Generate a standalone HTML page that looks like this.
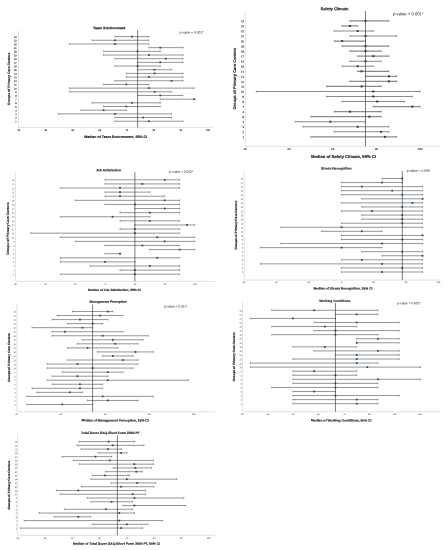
<!DOCTYPE html>
<html><head><meta charset="utf-8"><title>SAQ domains by primary care center</title>
<style>
html,body{margin:0;padding:0;background:#fff}
svg{display:block}
text{font-family:"Liberation Sans",Arial,sans-serif;fill:#111;text-rendering:geometricPrecision}
.b{font-weight:bold;stroke:#111;stroke-width:0.12px}
.t text{fill:#000;stroke:#000;stroke-width:0.07px}
.u text{fill:#2a2a2a}
</style></head><body>
<svg width="447" height="550" viewBox="0 0 447 550">
<rect width="447" height="550" fill="#fff"/>
<g>
<path d="M18.4 30.5V127.4H213.5" fill="none" stroke="#d4d4d4" stroke-width="0.7"/>
<path d="M114.94 36.6H148.93M92.28 40.28H148.93M69.62 43.96H148.93M148.93 47.64H182.92M103.61 51.32H160.26M103.61 55H182.92M114.94 58.68H182.92M137.6 62.36H182.92M114.94 66.04H160.26M137.6 69.72H171.59M126.27 73.4H182.92M126.27 77.08H182.92M114.94 80.76H182.92M103.61 84.44H148.93M69.62 88.12H194.25M69.62 91.8H171.59M137.6 95.48H182.92M160.26 99.16H194.25M92.28 102.84H160.26M103.61 106.52H160.26M80.95 110.2H126.27M58.29 113.88H171.59M114.94 117.56H171.59M114.94 121.24H182.92" fill="none" stroke="#969696" stroke-width="1"/>
<path d="M114.94 35.7v1.8M148.93 35.7v1.8M92.28 39.38v1.8M148.93 39.38v1.8M69.62 43.06v1.8M148.93 43.06v1.8M148.93 46.74v1.8M182.92 46.74v1.8M103.61 50.42v1.8M160.26 50.42v1.8M103.61 54.1v1.8M182.92 54.1v1.8M114.94 57.78v1.8M182.92 57.78v1.8M137.6 61.46v1.8M182.92 61.46v1.8M114.94 65.14v1.8M160.26 65.14v1.8M137.6 68.82v1.8M171.59 68.82v1.8M126.27 72.5v1.8M182.92 72.5v1.8M126.27 76.18v1.8M182.92 76.18v1.8M114.94 79.86v1.8M182.92 79.86v1.8M103.61 83.54v1.8M148.93 83.54v1.8M69.62 87.22v1.8M194.25 87.22v1.8M69.62 90.9v1.8M171.59 90.9v1.8M137.6 94.58v1.8M182.92 94.58v1.8M160.26 98.26v1.8M194.25 98.26v1.8M92.28 101.94v1.8M160.26 101.94v1.8M103.61 105.62v1.8M160.26 105.62v1.8M80.95 109.3v1.8M126.27 109.3v1.8M58.29 112.98v1.8M171.59 112.98v1.8M114.94 116.66v1.8M171.59 116.66v1.8M114.94 120.34v1.8M182.92 120.34v1.8" fill="none" stroke="#555" stroke-width="0.55"/>
<path d="M137.6 30.4V127.4" stroke="#3c3c3c" stroke-width="0.68"/>
<rect x="131.09" y="35.75" width="1.7" height="1.7" fill="#14466c"/><rect x="114.09" y="39.43" width="1.7" height="1.7" fill="#14466c"/><rect x="114.09" y="43.11" width="1.7" height="1.7" fill="#14466c"/><rect x="159.41" y="46.79" width="1.7" height="1.7" fill="#14466c"/><rect x="136.75" y="50.47" width="1.7" height="1.7" fill="#14466c"/><rect x="148.08" y="54.15" width="1.7" height="1.7" fill="#14466c"/><rect x="165.07" y="57.83" width="1.7" height="1.7" fill="#14466c"/><rect x="159.41" y="61.51" width="1.7" height="1.7" fill="#14466c"/><rect x="136.75" y="65.19" width="1.7" height="1.7" fill="#14466c"/><rect x="153.75" y="68.87" width="1.7" height="1.7" fill="#14466c"/><rect x="153.75" y="72.55" width="1.7" height="1.7" fill="#14466c"/><rect x="148.08" y="76.23" width="1.7" height="1.7" fill="#14466c"/><rect x="170.74" y="79.91" width="1.7" height="1.7" fill="#14466c"/><rect x="125.42" y="83.59" width="1.7" height="1.7" fill="#14466c"/><rect x="148.08" y="87.27" width="1.7" height="1.7" fill="#14466c"/><rect x="153.75" y="90.95" width="1.7" height="1.7" fill="#14466c"/><rect x="159.41" y="94.63" width="1.7" height="1.7" fill="#14466c"/><rect x="193.4" y="98.31" width="1.7" height="1.7" fill="#14466c"/><rect x="131.09" y="101.99" width="1.7" height="1.7" fill="#14466c"/><rect x="125.42" y="105.67" width="1.7" height="1.7" fill="#14466c"/><rect x="102.76" y="109.35" width="1.7" height="1.7" fill="#14466c"/><rect x="114.09" y="113.03" width="1.7" height="1.7" fill="#14466c"/><rect x="142.41" y="116.71" width="1.7" height="1.7" fill="#14466c"/><rect x="148.08" y="120.39" width="1.7" height="1.7" fill="#14466c"/>
<text class="b" x="109.2" y="29.15" font-size="3.62" text-anchor="middle" transform="rotate(0.03 109.2 29.15)">Team Environment</text>
<text class="b" x="115.7" y="138" font-size="3.55" text-anchor="middle" transform="rotate(0.03 115.7 138)">Median of Team Environment, 95% CI</text>
<text class="b" transform="translate(10.1 78.9) rotate(-90)" font-size="3.45" text-anchor="middle">Groups of Primary Care Centers</text>
<text x="179.4" y="33.6" font-size="3.3" transform="rotate(0.03 189.4 33.6)">p-value = 0.001*</text>
<g class="t" font-size="2.3" text-anchor="middle" transform="rotate(0.02 115.95 131.3)"><text x="18.8" y="131.3">30</text><text x="45.8" y="131.3">40</text><text x="72.8" y="131.3">50</text><text x="99.8" y="131.3">60</text><text x="126.8" y="131.3">70</text><text x="153.8" y="131.3">80</text><text x="180.8" y="131.3">90</text><text x="207.8" y="131.3">100</text></g>
<g class="t" font-size="2.5" text-anchor="end" transform="rotate(0.03 16.7 80.76)"><text x="16.7" y="37.9">24</text><text x="16.7" y="41.58">23</text><text x="16.7" y="45.26">22</text><text x="16.7" y="48.94">21</text><text x="16.7" y="52.62">20</text><text x="16.7" y="56.3">19</text><text x="16.7" y="59.98">18</text><text x="16.7" y="63.66">17</text><text x="16.7" y="67.34">16</text><text x="16.7" y="71.02">15</text><text x="16.7" y="74.7">14</text><text x="16.7" y="78.38">13</text><text x="16.7" y="82.06">12</text><text x="16.7" y="85.74">11</text><text x="16.7" y="89.42">10</text><text x="16.7" y="93.1">9</text><text x="16.7" y="96.78">8</text><text x="16.7" y="100.46">7</text><text x="16.7" y="104.14">6</text><text x="16.7" y="107.82">5</text><text x="16.7" y="111.5">4</text><text x="16.7" y="115.18">3</text><text x="16.7" y="118.86">2</text><text x="16.7" y="122.54">1</text></g>
</g>
<g>
<path d="M245.3 11V146.3H439.6" fill="none" stroke="#d4d4d4" stroke-width="0.7"/>
<path d="M349.9 20.9H388.9M342.1 25.94H357.7M334.3 30.98H373.3M349.9 36.02H396.7M334.3 41.06H365.5M342.1 46.1H388.9M349.9 51.14H381.1M357.7 56.18H388.9M349.9 61.22H381.1M342.1 66.26H373.3M357.7 71.3H388.9M365.5 76.34H396.7M349.9 81.38H396.7M326.5 86.42H381.1M256.3 91.46H420.1M326.5 96.5H412.3M342.1 101.54H404.5M373.3 106.58H420.1M334.3 111.62H381.1M310.9 116.66H381.1M295.3 121.7H365.5M303.1 126.74H388.9M334.3 131.78H388.9M310.9 136.82H396.7" fill="none" stroke="#8a8a8a" stroke-width="1.15"/>
<path d="M349.9 19.95v1.9M388.9 19.95v1.9M342.1 24.99v1.9M357.7 24.99v1.9M334.3 30.03v1.9M373.3 30.03v1.9M349.9 35.07v1.9M396.7 35.07v1.9M334.3 40.11v1.9M365.5 40.11v1.9M342.1 45.15v1.9M388.9 45.15v1.9M349.9 50.19v1.9M381.1 50.19v1.9M357.7 55.23v1.9M388.9 55.23v1.9M349.9 60.27v1.9M381.1 60.27v1.9M342.1 65.31v1.9M373.3 65.31v1.9M357.7 70.35v1.9M388.9 70.35v1.9M365.5 75.39v1.9M396.7 75.39v1.9M349.9 80.43v1.9M396.7 80.43v1.9M326.5 85.47v1.9M381.1 85.47v1.9M256.3 90.51v1.9M420.1 90.51v1.9M326.5 95.55v1.9M412.3 95.55v1.9M342.1 100.59v1.9M404.5 100.59v1.9M373.3 105.63v1.9M420.1 105.63v1.9M334.3 110.67v1.9M381.1 110.67v1.9M310.9 115.71v1.9M381.1 115.71v1.9M295.3 120.75v1.9M365.5 120.75v1.9M303.1 125.79v1.9M388.9 125.79v1.9M334.3 130.83v1.9M388.9 130.83v1.9M310.9 135.87v1.9M396.7 135.87v1.9" fill="none" stroke="#555" stroke-width="0.55"/>
<path d="M365.5 11V146.3" stroke="#3c3c3c" stroke-width="0.68"/>
<rect x="364.5" y="19.9" width="2" height="2" fill="#14466c"/><rect x="348.9" y="24.94" width="2" height="2" fill="#14466c"/><rect x="356.7" y="29.98" width="2" height="2" fill="#14466c"/><rect x="364.5" y="35.02" width="2" height="2" fill="#14466c"/><rect x="341.1" y="40.06" width="2" height="2" fill="#14466c"/><rect x="364.5" y="45.1" width="2" height="2" fill="#14466c"/><rect x="364.5" y="50.14" width="2" height="2" fill="#14466c"/><rect x="372.3" y="55.18" width="2" height="2" fill="#14466c"/><rect x="364.5" y="60.22" width="2" height="2" fill="#14466c"/><rect x="356.7" y="65.26" width="2" height="2" fill="#14466c"/><rect x="360.6" y="70.3" width="2" height="2" fill="#14466c"/><rect x="387.9" y="75.34" width="2" height="2" fill="#14466c"/><rect x="387.9" y="80.38" width="2" height="2" fill="#14466c"/><rect x="360.6" y="85.42" width="2" height="2" fill="#14466c"/><rect x="372.3" y="90.46" width="2" height="2" fill="#14466c"/><rect x="372.3" y="95.5" width="2" height="2" fill="#14466c"/><rect x="376.2" y="100.54" width="2" height="2" fill="#14466c"/><rect x="411.3" y="105.58" width="2" height="2" fill="#14466c"/><rect x="348.9" y="110.62" width="2" height="2" fill="#14466c"/><rect x="368.4" y="115.66" width="2" height="2" fill="#14466c"/><rect x="329.4" y="120.7" width="2" height="2" fill="#14466c"/><rect x="356.7" y="125.74" width="2" height="2" fill="#14466c"/><rect x="380.1" y="130.78" width="2" height="2" fill="#14466c"/><rect x="384" y="135.82" width="2" height="2" fill="#14466c"/>
<text class="b" x="334.6" y="10.2" font-size="4.08" text-anchor="middle" transform="rotate(0.03 334.6 10.2)">Safety Climate</text>
<text class="b" x="343.5" y="158" font-size="4.15" text-anchor="middle" transform="rotate(0.03 343.5 158)">Median of Safety Climate, 95% CI</text>
<text class="b" transform="translate(236.3 78.6) rotate(-90)" font-size="4.05" text-anchor="middle">Groups of Primary Care Centers</text>
<text x="392.9" y="15.2" font-size="4.2" transform="rotate(0.03 402.9 15.2)">p-value &lt; 0.001*</text>
<g class="t" font-size="2.8" text-anchor="middle" transform="rotate(0.02 342.45 150)"><text x="245.1" y="150">20</text><text x="288.9" y="150">40</text><text x="332.7" y="150">60</text><text x="376.5" y="150">80</text><text x="420.3" y="150">100</text></g>
<g class="t" font-size="2.7" text-anchor="end" transform="rotate(0.03 244 81.38)"><text x="244" y="22.27">24</text><text x="244" y="27.31">23</text><text x="244" y="32.35">22</text><text x="244" y="37.39">21</text><text x="244" y="42.43">20</text><text x="244" y="47.47">19</text><text x="244" y="52.51">18</text><text x="244" y="57.55">17</text><text x="244" y="62.59">16</text><text x="244" y="67.63">15</text><text x="244" y="72.67">14</text><text x="244" y="77.71">13</text><text x="244" y="82.75">12</text><text x="244" y="87.79">11</text><text x="244" y="92.83">10</text><text x="244" y="97.87">9</text><text x="244" y="102.91">8</text><text x="244" y="107.95">7</text><text x="244" y="112.99">6</text><text x="244" y="118.03">5</text><text x="244" y="123.07">4</text><text x="244" y="128.11">3</text><text x="244" y="133.15">2</text><text x="244" y="138.19">1</text></g>
</g>
<g>
<path d="M15.6 172.3V281.4H215" fill="none" stroke="#d4d4d4" stroke-width="0.7"/>
<path d="M105.1 179.8H179.6M105.1 183.91H179.6M60.4 188.01H179.6M105.1 192.12H149.8M105.1 196.22H164.7M75.3 200.33H179.6M105.1 204.43H179.6M134.9 208.54H179.6M120 212.64H179.6M60.4 216.75H149.8M120 220.85H179.6M134.9 224.96H194.5M120 229.06H179.6M30.6 233.17H179.6M60.4 237.27H194.5M75.3 241.38H194.5M105.1 245.48H179.6M149.8 249.59H194.5M105.1 253.69H120M60.4 257.8H179.6M60.4 261.9H134.9M90.2 266H179.6M120 270.11H179.6M60.4 274.22H179.6" fill="none" stroke="#969696" stroke-width="1"/>
<path d="M105.1 178.9v1.8M179.6 178.9v1.8M105.1 183v1.8M179.6 183v1.8M60.4 187.11v1.8M179.6 187.11v1.8M105.1 191.22v1.8M149.8 191.22v1.8M105.1 195.32v1.8M164.7 195.32v1.8M75.3 199.43v1.8M179.6 199.43v1.8M105.1 203.53v1.8M179.6 203.53v1.8M134.9 207.64v1.8M179.6 207.64v1.8M120 211.74v1.8M179.6 211.74v1.8M60.4 215.84v1.8M149.8 215.84v1.8M120 219.95v1.8M179.6 219.95v1.8M134.9 224.06v1.8M194.5 224.06v1.8M120 228.16v1.8M179.6 228.16v1.8M30.6 232.27v1.8M179.6 232.27v1.8M60.4 236.37v1.8M194.5 236.37v1.8M75.3 240.47v1.8M194.5 240.47v1.8M105.1 244.58v1.8M179.6 244.58v1.8M149.8 248.69v1.8M194.5 248.69v1.8M105.1 252.79v1.8M120 252.79v1.8M60.4 256.9v1.8M179.6 256.9v1.8M60.4 261v1.8M134.9 261v1.8M90.2 265.11v1.8M179.6 265.11v1.8M120 269.21v1.8M179.6 269.21v1.8M60.4 273.32v1.8M179.6 273.32v1.8" fill="none" stroke="#555" stroke-width="0.55"/>
<path d="M134.9 172.2V281.4" stroke="#3c3c3c" stroke-width="0.68"/>
<rect x="163.85" y="178.95" width="1.7" height="1.7" fill="#14466c"/><rect x="141.5" y="183.06" width="1.7" height="1.7" fill="#14466c"/><rect x="119.15" y="187.16" width="1.7" height="1.7" fill="#14466c"/><rect x="119.15" y="191.27" width="1.7" height="1.7" fill="#14466c"/><rect x="119.15" y="195.37" width="1.7" height="1.7" fill="#14466c"/><rect x="163.85" y="199.48" width="1.7" height="1.7" fill="#14466c"/><rect x="134.05" y="203.58" width="1.7" height="1.7" fill="#14466c"/><rect x="163.85" y="207.69" width="1.7" height="1.7" fill="#14466c"/><rect x="148.95" y="211.79" width="1.7" height="1.7" fill="#14466c"/><rect x="111.7" y="215.9" width="1.7" height="1.7" fill="#14466c"/><rect x="148.95" y="220" width="1.7" height="1.7" fill="#14466c"/><rect x="186.2" y="224.11" width="1.7" height="1.7" fill="#14466c"/><rect x="134.05" y="228.21" width="1.7" height="1.7" fill="#14466c"/><rect x="134.05" y="232.32" width="1.7" height="1.7" fill="#14466c"/><rect x="156.4" y="236.42" width="1.7" height="1.7" fill="#14466c"/><rect x="163.85" y="240.53" width="1.7" height="1.7" fill="#14466c"/><rect x="141.5" y="244.63" width="1.7" height="1.7" fill="#14466c"/><rect x="178.75" y="248.74" width="1.7" height="1.7" fill="#14466c"/><rect x="119.15" y="252.84" width="1.7" height="1.7" fill="#14466c"/><rect x="156.4" y="256.94" width="1.7" height="1.7" fill="#14466c"/><rect x="104.25" y="261.05" width="1.7" height="1.7" fill="#14466c"/><rect x="148.95" y="265.15" width="1.7" height="1.7" fill="#14466c"/><rect x="134.05" y="269.26" width="1.7" height="1.7" fill="#14466c"/><rect x="134.05" y="273.37" width="1.7" height="1.7" fill="#14466c"/>
<text class="b" x="108.7" y="171.15" font-size="3.24" text-anchor="middle" transform="rotate(0.03 108.7 171.15)">Job Satisfaction</text>
<text class="b" x="114.4" y="290.9" font-size="3.2" text-anchor="middle" transform="rotate(0.03 114.4 290.9)">Median of Job Satisfaction, 95% CI</text>
<text class="b" transform="translate(8.5 228.6) rotate(-90)" font-size="3.45" text-anchor="middle">Groups of Primary Care Centers</text>
<text x="169.3" y="172.8" font-size="3.3" transform="rotate(0.03 179.3 172.8)">p-value = 0.042*</text>
<g class="u" font-size="2.3" text-anchor="middle" transform="rotate(0.02 115.3 285.2)"><text x="15.6" y="285.2">40</text><text x="45.47" y="285.2">50</text><text x="75.34" y="285.2">60</text><text x="105.21" y="285.2">70</text><text x="135.08" y="285.2">80</text><text x="164.95" y="285.2">90</text><text x="194.82" y="285.2">100</text></g>
<g class="u" font-size="2.05" text-anchor="end" transform="rotate(0.03 14.4 229.06)"><text x="14.4" y="180.94">24</text><text x="14.4" y="185.04">23</text><text x="14.4" y="189.15">22</text><text x="14.4" y="193.25">21</text><text x="14.4" y="197.36">20</text><text x="14.4" y="201.46">19</text><text x="14.4" y="205.57">18</text><text x="14.4" y="209.67">17</text><text x="14.4" y="213.78">16</text><text x="14.4" y="217.88">15</text><text x="14.4" y="221.99">14</text><text x="14.4" y="226.09">13</text><text x="14.4" y="230.2">12</text><text x="14.4" y="234.3">11</text><text x="14.4" y="238.41">10</text><text x="14.4" y="242.51">9</text><text x="14.4" y="246.62">8</text><text x="14.4" y="250.72">7</text><text x="14.4" y="254.83">6</text><text x="14.4" y="258.93">5</text><text x="14.4" y="263.04">4</text><text x="14.4" y="267.14">3</text><text x="14.4" y="271.25">2</text><text x="14.4" y="275.35">1</text></g>
</g>
<g>
<path d="M244.1 170.5V280.1H440" fill="none" stroke="#d4d4d4" stroke-width="0.7"/>
<path d="M382.05 178.5H402.3M341.55 182.56H402.3M341.55 186.63H422.55M341.55 190.69H422.55M341.55 194.76H422.55M361.8 198.82H422.55M341.55 202.89H422.55M361.8 206.96H422.55M341.55 211.02H422.55M361.8 215.09H422.55M361.8 219.15H422.55M341.55 223.22H422.55M280.8 227.28H422.55M321.3 231.34H382.05M341.55 235.41H422.55M341.55 239.48H422.55M280.8 243.54H422.55M260.55 247.61H382.05M361.8 251.67H422.55M382.05 255.74H422.55M341.55 259.8H422.55M260.55 263.87H422.55M341.55 267.93H422.55M341.55 272H422.55" fill="none" stroke="#969696" stroke-width="1"/>
<path d="M382.05 177.6v1.8M402.3 177.6v1.8M341.55 181.66v1.8M402.3 181.66v1.8M341.55 185.73v1.8M422.55 185.73v1.8M341.55 189.79v1.8M422.55 189.79v1.8M341.55 193.86v1.8M422.55 193.86v1.8M361.8 197.92v1.8M422.55 197.92v1.8M341.55 201.99v1.8M422.55 201.99v1.8M361.8 206.06v1.8M422.55 206.06v1.8M341.55 210.12v1.8M422.55 210.12v1.8M361.8 214.19v1.8M422.55 214.19v1.8M361.8 218.25v1.8M422.55 218.25v1.8M341.55 222.31v1.8M422.55 222.31v1.8M280.8 226.38v1.8M422.55 226.38v1.8M321.3 230.44v1.8M382.05 230.44v1.8M341.55 234.51v1.8M422.55 234.51v1.8M341.55 238.58v1.8M422.55 238.58v1.8M280.8 242.64v1.8M422.55 242.64v1.8M260.55 246.71v1.8M382.05 246.71v1.8M361.8 250.77v1.8M422.55 250.77v1.8M382.05 254.84v1.8M422.55 254.84v1.8M341.55 258.9v1.8M422.55 258.9v1.8M260.55 262.97v1.8M422.55 262.97v1.8M341.55 267.03v1.8M422.55 267.03v1.8M341.55 271.1v1.8M422.55 271.1v1.8" fill="none" stroke="#555" stroke-width="0.55"/>
<path d="M402.3 171V280.1" stroke="#3c3c3c" stroke-width="0.68"/>
<rect x="401.45" y="177.65" width="1.7" height="1.7" fill="#14466c"/><rect x="381.2" y="181.72" width="1.7" height="1.7" fill="#14466c"/><rect x="360.95" y="185.78" width="1.7" height="1.7" fill="#14466c"/><rect x="391.32" y="189.84" width="1.7" height="1.7" fill="#14466c"/><rect x="401.45" y="193.91" width="1.7" height="1.7" fill="#14466c"/><rect x="421.7" y="197.97" width="1.7" height="1.7" fill="#14466c"/><rect x="411.57" y="202.04" width="1.7" height="1.7" fill="#14466c"/><rect x="401.45" y="206.11" width="1.7" height="1.7" fill="#14466c"/><rect x="371.07" y="210.17" width="1.7" height="1.7" fill="#14466c"/><rect x="401.45" y="214.24" width="1.7" height="1.7" fill="#14466c"/><rect x="401.45" y="218.3" width="1.7" height="1.7" fill="#14466c"/><rect x="401.45" y="222.37" width="1.7" height="1.7" fill="#14466c"/><rect x="340.7" y="226.43" width="1.7" height="1.7" fill="#14466c"/><rect x="360.95" y="230.5" width="1.7" height="1.7" fill="#14466c"/><rect x="421.7" y="234.56" width="1.7" height="1.7" fill="#14466c"/><rect x="401.45" y="238.63" width="1.7" height="1.7" fill="#14466c"/><rect x="381.2" y="242.69" width="1.7" height="1.7" fill="#14466c"/><rect x="340.7" y="246.76" width="1.7" height="1.7" fill="#14466c"/><rect x="401.45" y="250.82" width="1.7" height="1.7" fill="#14466c"/><rect x="421.7" y="254.89" width="1.7" height="1.7" fill="#14466c"/><rect x="360.95" y="258.95" width="1.7" height="1.7" fill="#14466c"/><rect x="381.2" y="263.01" width="1.7" height="1.7" fill="#14466c"/><rect x="401.45" y="267.08" width="1.7" height="1.7" fill="#14466c"/><rect x="381.2" y="271.14" width="1.7" height="1.7" fill="#14466c"/>
<text class="b" x="336.3" y="169.6" font-size="3.35" text-anchor="middle" transform="rotate(0.03 336.3 169.6)">Stress Recognition</text>
<text class="b" x="343" y="289.4" font-size="3.3" text-anchor="middle" transform="rotate(0.03 343 289.4)">Median of Stress Recognition, 95% CI</text>
<text class="b" transform="translate(237.1 225.2) rotate(-90)" font-size="3.2" text-anchor="middle">Groups of Primary Care Centers</text>
<text x="406.7" y="171.7" font-size="3.35" transform="rotate(0.03 416.7 171.7)">p-value = 0.099</text>
<g class="u" font-size="2.3" text-anchor="middle" transform="rotate(0.02 342.05 283.4)"><text x="244" y="283.4">40</text><text x="276.4" y="283.4">50</text><text x="308.8" y="283.4">60</text><text x="341.2" y="283.4">70</text><text x="373.6" y="283.4">80</text><text x="406" y="283.4">90</text><text x="438.4" y="283.4">100</text></g>
<g class="u" font-size="2.05" text-anchor="end" transform="rotate(0.03 243.1 227.28)"><text x="243.1" y="179.64">24</text><text x="243.1" y="183.7">23</text><text x="243.1" y="187.77">22</text><text x="243.1" y="191.83">21</text><text x="243.1" y="195.9">20</text><text x="243.1" y="199.96">19</text><text x="243.1" y="204.03">18</text><text x="243.1" y="208.09">17</text><text x="243.1" y="212.16">16</text><text x="243.1" y="216.22">15</text><text x="243.1" y="220.29">14</text><text x="243.1" y="224.35">13</text><text x="243.1" y="228.42">12</text><text x="243.1" y="232.48">11</text><text x="243.1" y="236.55">10</text><text x="243.1" y="240.61">9</text><text x="243.1" y="244.68">8</text><text x="243.1" y="248.74">7</text><text x="243.1" y="252.81">6</text><text x="243.1" y="256.87">5</text><text x="243.1" y="260.94">4</text><text x="243.1" y="265">3</text><text x="243.1" y="269.07">2</text><text x="243.1" y="273.13">1</text></g>
</g>
<g>
<path d="M16.8 304.1V411.8H215" fill="none" stroke="#d4d4d4" stroke-width="0.7"/>
<path d="M72.4 311.5H112.8M57.25 315.54H122.9M52.2 319.59H107.75M67.35 323.63H102.7M32 327.67H92.6M52.2 331.71H122.9M52.2 335.76H148.15M82.5 339.8H143.1M77.45 343.84H138.05M67.35 347.89H117.85M97.65 351.93H153.2M102.7 355.97H133M67.35 360.02H138.05M47.15 364.06H138.05M47.15 368.1H133M62.3 372.14H122.9M52.2 376.19H107.75M47.15 380.23H188.55M52.2 384.27H102.7M32 388.32H102.7M37.05 392.36H82.5M26.95 396.4H153.2M87.55 400.45H138.05M26.95 404.49H92.6" fill="none" stroke="#969696" stroke-width="1"/>
<path d="M72.4 310.6v1.8M112.8 310.6v1.8M57.25 314.64v1.8M122.9 314.64v1.8M52.2 318.69v1.8M107.75 318.69v1.8M67.35 322.73v1.8M102.7 322.73v1.8M32 326.77v1.8M92.6 326.77v1.8M52.2 330.81v1.8M122.9 330.81v1.8M52.2 334.86v1.8M148.15 334.86v1.8M82.5 338.9v1.8M143.1 338.9v1.8M77.45 342.94v1.8M138.05 342.94v1.8M67.35 346.99v1.8M117.85 346.99v1.8M97.65 351.03v1.8M153.2 351.03v1.8M102.7 355.07v1.8M133 355.07v1.8M67.35 359.12v1.8M138.05 359.12v1.8M47.15 363.16v1.8M138.05 363.16v1.8M47.15 367.2v1.8M133 367.2v1.8M62.3 371.25v1.8M122.9 371.25v1.8M52.2 375.29v1.8M107.75 375.29v1.8M47.15 379.33v1.8M188.55 379.33v1.8M52.2 383.37v1.8M102.7 383.37v1.8M32 387.42v1.8M102.7 387.42v1.8M37.05 391.46v1.8M82.5 391.46v1.8M26.95 395.5v1.8M153.2 395.5v1.8M87.55 399.55v1.8M138.05 399.55v1.8M26.95 403.59v1.8M92.6 403.59v1.8" fill="none" stroke="#555" stroke-width="0.55"/>
<path d="M92.6 304.4V411.8" stroke="#3c3c3c" stroke-width="0.68"/>
<rect x="106.9" y="310.65" width="1.7" height="1.7" fill="#14466c"/><rect x="99.33" y="314.69" width="1.7" height="1.7" fill="#14466c"/><rect x="79.12" y="318.74" width="1.7" height="1.7" fill="#14466c"/><rect x="91.75" y="322.78" width="1.7" height="1.7" fill="#14466c"/><rect x="81.65" y="326.82" width="1.7" height="1.7" fill="#14466c"/><rect x="63.97" y="330.86" width="1.7" height="1.7" fill="#14466c"/><rect x="101.85" y="334.91" width="1.7" height="1.7" fill="#14466c"/><rect x="111.95" y="338.95" width="1.7" height="1.7" fill="#14466c"/><rect x="114.47" y="342.99" width="1.7" height="1.7" fill="#14466c"/><rect x="86.7" y="347.04" width="1.7" height="1.7" fill="#14466c"/><rect x="134.67" y="351.08" width="1.7" height="1.7" fill="#14466c"/><rect x="111.95" y="355.12" width="1.7" height="1.7" fill="#14466c"/><rect x="122.05" y="359.17" width="1.7" height="1.7" fill="#14466c"/><rect x="76.6" y="363.21" width="1.7" height="1.7" fill="#14466c"/><rect x="91.75" y="367.25" width="1.7" height="1.7" fill="#14466c"/><rect x="106.9" y="371.29" width="1.7" height="1.7" fill="#14466c"/><rect x="76.6" y="375.34" width="1.7" height="1.7" fill="#14466c"/><rect x="106.9" y="379.38" width="1.7" height="1.7" fill="#14466c"/><rect x="79.12" y="383.42" width="1.7" height="1.7" fill="#14466c"/><rect x="79.12" y="387.47" width="1.7" height="1.7" fill="#14466c"/><rect x="69.03" y="391.51" width="1.7" height="1.7" fill="#14466c"/><rect x="101.85" y="395.55" width="1.7" height="1.7" fill="#14466c"/><rect x="106.9" y="399.6" width="1.7" height="1.7" fill="#14466c"/><rect x="61.45" y="403.64" width="1.7" height="1.7" fill="#14466c"/>
<text class="b" x="108.2" y="302.8" font-size="3.22" text-anchor="middle" transform="rotate(0.03 108.2 302.8)">Management Perception</text>
<text class="b" x="115.1" y="421.4" font-size="3.3" text-anchor="middle" transform="rotate(0.03 115.1 421.4)">Median of Management Perception, 95% CI</text>
<text class="b" transform="translate(9.7 357.5) rotate(-90)" font-size="3.2" text-anchor="middle">Groups of Primary Care Centers</text>
<text x="164.2" y="307.4" font-size="3.2" transform="rotate(0.03 174.2 307.4)">p-value = 0.011*</text>
<g class="u" font-size="2.3" text-anchor="middle" transform="rotate(0.02 115.9 415.4)"><text x="16.6" y="415.4">20</text><text x="60.85" y="415.4">40</text><text x="105.1" y="415.4">60</text><text x="149.35" y="415.4">80</text><text x="193.6" y="415.4">100</text></g>
<g class="u" font-size="2.05" text-anchor="end" transform="rotate(0.03 15.7 360.02)"><text x="15.7" y="312.64">24</text><text x="15.7" y="316.68">23</text><text x="15.7" y="320.72">22</text><text x="15.7" y="324.77">21</text><text x="15.7" y="328.81">20</text><text x="15.7" y="332.85">19</text><text x="15.7" y="336.9">18</text><text x="15.7" y="340.94">17</text><text x="15.7" y="344.98">16</text><text x="15.7" y="349.02">15</text><text x="15.7" y="353.07">14</text><text x="15.7" y="357.11">13</text><text x="15.7" y="361.15">12</text><text x="15.7" y="365.2">11</text><text x="15.7" y="369.24">10</text><text x="15.7" y="373.28">9</text><text x="15.7" y="377.33">8</text><text x="15.7" y="381.37">7</text><text x="15.7" y="385.41">6</text><text x="15.7" y="389.45">5</text><text x="15.7" y="393.5">4</text><text x="15.7" y="397.54">3</text><text x="15.7" y="401.58">2</text><text x="15.7" y="405.63">1</text></g>
</g>
<g>
<path d="M242.5 302.3V411.6H440" fill="none" stroke="#d4d4d4" stroke-width="0.7"/>
<path d="M271.7 310.3H377.95M335.45 314.36H377.95M250.45 318.42H335.45M314.2 322.48H399.2M271.7 326.54H356.7M314.2 330.6H399.2M271.7 334.66H377.95M356.7 338.72H399.2M356.7 342.78H399.2M292.95 346.84H356.7M314.2 350.9H399.2M335.45 354.96H399.2M292.95 359.02H399.2M250.45 363.08H377.95M250.45 367.14H420.45M292.95 371.2H356.7M292.95 375.26H356.7M292.95 379.32H420.45M292.95 383.38H377.95M271.7 387.44H377.95M292.95 391.5H335.45M292.95 395.56H399.2M292.95 399.62H377.95M292.95 403.68H377.95" fill="none" stroke="#969696" stroke-width="1"/>
<path d="M271.7 309.4v1.8M377.95 309.4v1.8M335.45 313.46v1.8M377.95 313.46v1.8M250.45 317.52v1.8M335.45 317.52v1.8M314.2 321.58v1.8M399.2 321.58v1.8M271.7 325.64v1.8M356.7 325.64v1.8M314.2 329.7v1.8M399.2 329.7v1.8M271.7 333.76v1.8M377.95 333.76v1.8M356.7 337.82v1.8M399.2 337.82v1.8M356.7 341.88v1.8M399.2 341.88v1.8M292.95 345.94v1.8M356.7 345.94v1.8M314.2 350v1.8M399.2 350v1.8M335.45 354.06v1.8M399.2 354.06v1.8M292.95 358.12v1.8M399.2 358.12v1.8M250.45 362.18v1.8M377.95 362.18v1.8M250.45 366.24v1.8M420.45 366.24v1.8M292.95 370.3v1.8M356.7 370.3v1.8M292.95 374.36v1.8M356.7 374.36v1.8M292.95 378.42v1.8M420.45 378.42v1.8M292.95 382.48v1.8M377.95 382.48v1.8M271.7 386.54v1.8M377.95 386.54v1.8M292.95 390.6v1.8M335.45 390.6v1.8M292.95 394.66v1.8M399.2 394.66v1.8M292.95 398.72v1.8M377.95 398.72v1.8M292.95 402.78v1.8M377.95 402.78v1.8" fill="none" stroke="#555" stroke-width="0.55"/>
<path d="M335.45 303V411.6" stroke="#3c3c3c" stroke-width="0.68"/>
<rect x="313.35" y="309.45" width="1.7" height="1.7" fill="#14466c"/><rect x="355.85" y="313.51" width="1.7" height="1.7" fill="#14466c"/><rect x="292.1" y="317.57" width="1.7" height="1.7" fill="#14466c"/><rect x="355.85" y="321.63" width="1.7" height="1.7" fill="#14466c"/><rect x="323.97" y="325.69" width="1.7" height="1.7" fill="#14466c"/><rect x="334.6" y="329.75" width="1.7" height="1.7" fill="#14466c"/><rect x="334.6" y="333.81" width="1.7" height="1.7" fill="#14466c"/><rect x="377.1" y="337.87" width="1.7" height="1.7" fill="#14466c"/><rect x="355.85" y="341.93" width="1.7" height="1.7" fill="#14466c"/><rect x="323.97" y="345.99" width="1.7" height="1.7" fill="#14466c"/><rect x="377.1" y="350.05" width="1.7" height="1.7" fill="#14466c"/><rect x="355.85" y="354.11" width="1.7" height="1.7" fill="#14466c"/><rect x="355.85" y="358.17" width="1.7" height="1.7" fill="#14466c"/><rect x="355.85" y="362.23" width="1.7" height="1.7" fill="#14466c"/><rect x="366.47" y="366.29" width="1.7" height="1.7" fill="#14466c"/><rect x="313.35" y="370.35" width="1.7" height="1.7" fill="#14466c"/><rect x="334.6" y="374.41" width="1.7" height="1.7" fill="#14466c"/><rect x="377.1" y="378.47" width="1.7" height="1.7" fill="#14466c"/><rect x="334.6" y="382.53" width="1.7" height="1.7" fill="#14466c"/><rect x="334.6" y="386.59" width="1.7" height="1.7" fill="#14466c"/><rect x="313.35" y="390.65" width="1.7" height="1.7" fill="#14466c"/><rect x="334.6" y="394.71" width="1.7" height="1.7" fill="#14466c"/><rect x="355.85" y="398.77" width="1.7" height="1.7" fill="#14466c"/><rect x="355.85" y="402.83" width="1.7" height="1.7" fill="#14466c"/>
<text class="b" x="334.8" y="302" font-size="3.27" text-anchor="middle" transform="rotate(0.03 334.8 302)">Working Conditions</text>
<text class="b" x="341.2" y="421.4" font-size="3.3" text-anchor="middle" transform="rotate(0.03 341.2 421.4)">Median of Working Conditions, 95% CI</text>
<text class="b" transform="translate(235.3 356.8) rotate(-90)" font-size="3.2" text-anchor="middle">Groups of Primary Care Centers</text>
<text x="397.3" y="304.2" font-size="3.2" transform="rotate(0.03 407.3 304.2)">p-value = 0.001*</text>
<g class="u" font-size="2.3" text-anchor="middle" transform="rotate(0.02 341.25 415.2)"><text x="242.3" y="415.2">30</text><text x="267.7" y="415.2">40</text><text x="293.1" y="415.2">50</text><text x="318.5" y="415.2">60</text><text x="343.9" y="415.2">70</text><text x="369.3" y="415.2">80</text><text x="394.7" y="415.2">90</text><text x="420.1" y="415.2">100</text></g>
<g class="u" font-size="2.05" text-anchor="end" transform="rotate(0.03 241.7 359.02)"><text x="241.7" y="311.44">24</text><text x="241.7" y="315.5">23</text><text x="241.7" y="319.56">22</text><text x="241.7" y="323.62">21</text><text x="241.7" y="327.68">20</text><text x="241.7" y="331.74">19</text><text x="241.7" y="335.8">18</text><text x="241.7" y="339.86">17</text><text x="241.7" y="343.92">16</text><text x="241.7" y="347.98">15</text><text x="241.7" y="352.04">14</text><text x="241.7" y="356.1">13</text><text x="241.7" y="360.16">12</text><text x="241.7" y="364.22">11</text><text x="241.7" y="368.28">10</text><text x="241.7" y="372.34">9</text><text x="241.7" y="376.4">8</text><text x="241.7" y="380.46">7</text><text x="241.7" y="384.52">6</text><text x="241.7" y="388.58">5</text><text x="241.7" y="392.64">4</text><text x="241.7" y="396.7">3</text><text x="241.7" y="400.76">2</text><text x="241.7" y="404.82">1</text></g>
</g>
<g>
<path d="M17.6 434.5V535.3H215" fill="none" stroke="#d4d4d4" stroke-width="0.7"/>
<path d="M79.2 441.6H134.7M77.2 445.36H144M81.1 449.12H121.6M98.3 452.88H127M62.2 456.64H111.8M73.3 460.4H153.5M79.2 464.16H153.5M113.3 467.92H151.5M105.7 471.68H142.3M92.3 475.44H129.5M90.9 479.2H176.8M111.1 482.96H155.7M81.4 486.72H153.7M56.3 490.48H145.6M60.4 494.24H145.6M87.3 498H183.8M90.9 501.76H132.6M122.9 505.52H185.6M64.3 509.28H132.6M39.1 513.04H134.5M54.3 516.8H90.7M24.3 520.56H162.6M92.4 524.32H147.8M20.5 528.08H142.4" fill="none" stroke="#969696" stroke-width="1"/>
<path d="M79.2 440.7v1.8M134.7 440.7v1.8M77.2 444.46v1.8M144 444.46v1.8M81.1 448.22v1.8M121.6 448.22v1.8M98.3 451.98v1.8M127 451.98v1.8M62.2 455.74v1.8M111.8 455.74v1.8M73.3 459.5v1.8M153.5 459.5v1.8M79.2 463.26v1.8M153.5 463.26v1.8M113.3 467.02v1.8M151.5 467.02v1.8M105.7 470.78v1.8M142.3 470.78v1.8M92.3 474.54v1.8M129.5 474.54v1.8M90.9 478.3v1.8M176.8 478.3v1.8M111.1 482.06v1.8M155.7 482.06v1.8M81.4 485.82v1.8M153.7 485.82v1.8M56.3 489.58v1.8M145.6 489.58v1.8M60.4 493.34v1.8M145.6 493.34v1.8M87.3 497.1v1.8M183.8 497.1v1.8M90.9 500.86v1.8M132.6 500.86v1.8M122.9 504.62v1.8M185.6 504.62v1.8M64.3 508.38v1.8M132.6 508.38v1.8M39.1 512.14v1.8M134.5 512.14v1.8M54.3 515.9v1.8M90.7 515.9v1.8M24.3 519.66v1.8M162.6 519.66v1.8M92.4 523.42v1.8M147.8 523.42v1.8M20.5 527.18v1.8M142.4 527.18v1.8" fill="none" stroke="#555" stroke-width="0.55"/>
<path d="M117.4 435.3V535.3" stroke="#3c3c3c" stroke-width="0.68"/>
<rect x="107.85" y="440.75" width="1.7" height="1.7" fill="#14466c"/><rect x="111.75" y="444.51" width="1.7" height="1.7" fill="#14466c"/><rect x="106.95" y="448.27" width="1.7" height="1.7" fill="#14466c"/><rect x="120.25" y="452.03" width="1.7" height="1.7" fill="#14466c"/><rect x="94.65" y="455.79" width="1.7" height="1.7" fill="#14466c"/><rect x="108.95" y="459.55" width="1.7" height="1.7" fill="#14466c"/><rect x="133.45" y="463.31" width="1.7" height="1.7" fill="#14466c"/><rect x="134.55" y="467.07" width="1.7" height="1.7" fill="#14466c"/><rect x="135.45" y="470.83" width="1.7" height="1.7" fill="#14466c"/><rect x="103.95" y="474.59" width="1.7" height="1.7" fill="#14466c"/><rect x="125.95" y="478.35" width="1.7" height="1.7" fill="#14466c"/><rect x="136.35" y="482.11" width="1.7" height="1.7" fill="#14466c"/><rect x="120.25" y="485.87" width="1.7" height="1.7" fill="#14466c"/><rect x="77.45" y="489.63" width="1.7" height="1.7" fill="#14466c"/><rect x="131.75" y="493.39" width="1.7" height="1.7" fill="#14466c"/><rect x="133.55" y="497.15" width="1.7" height="1.7" fill="#14466c"/><rect x="110.75" y="500.91" width="1.7" height="1.7" fill="#14466c"/><rect x="133.55" y="504.67" width="1.7" height="1.7" fill="#14466c"/><rect x="105.05" y="508.43" width="1.7" height="1.7" fill="#14466c"/><rect x="118.45" y="512.19" width="1.7" height="1.7" fill="#14466c"/><rect x="77.55" y="515.95" width="1.7" height="1.7" fill="#14466c"/><rect x="118.45" y="519.71" width="1.7" height="1.7" fill="#14466c"/><rect x="125.95" y="523.47" width="1.7" height="1.7" fill="#14466c"/><rect x="120.25" y="527.23" width="1.7" height="1.7" fill="#14466c"/>
<text class="b" x="110.4" y="433.9" font-size="3.34" text-anchor="middle" transform="rotate(0.03 110.4 433.9)">Total Score SAQ-Short Form 2006 PT</text>
<text class="b" x="116.5" y="544.8" font-size="3.32" text-anchor="middle" transform="rotate(0.03 116.5 544.8)">Median of Total Score SAQ-Short Form 2006 PT, 95% CI</text>
<text class="b" transform="translate(10.3 485.2) rotate(-90)" font-size="3.2" text-anchor="middle">Groups of Primary Care Centers</text>
<g class="u" font-size="2.3" text-anchor="middle" transform="rotate(0.02 116.3 538.8)"><text x="17.8" y="538.8">30</text><text x="45.07" y="538.8">40</text><text x="72.34" y="538.8">50</text><text x="99.61" y="538.8">60</text><text x="126.88" y="538.8">70</text><text x="154.15" y="538.8">80</text><text x="181.42" y="538.8">90</text><text x="208.69" y="538.8">100</text></g>
<g class="u" font-size="2.05" text-anchor="end" transform="rotate(0.03 17 486.72)"><text x="17" y="442.74">24</text><text x="17" y="446.5">23</text><text x="17" y="450.26">22</text><text x="17" y="454.02">21</text><text x="17" y="457.78">20</text><text x="17" y="461.54">19</text><text x="17" y="465.3">18</text><text x="17" y="469.06">17</text><text x="17" y="472.82">16</text><text x="17" y="476.58">15</text><text x="17" y="480.34">14</text><text x="17" y="484.1">13</text><text x="17" y="487.86">12</text><text x="17" y="491.62">11</text><text x="17" y="495.38">10</text><text x="17" y="499.14">9</text><text x="17" y="502.9">8</text><text x="17" y="506.66">7</text><text x="17" y="510.42">6</text><text x="17" y="514.18">5</text><text x="17" y="517.94">4</text><text x="17" y="521.7">3</text><text x="17" y="525.46">2</text><text x="17" y="529.22">1</text></g>
</g>
</svg>
</body></html>
